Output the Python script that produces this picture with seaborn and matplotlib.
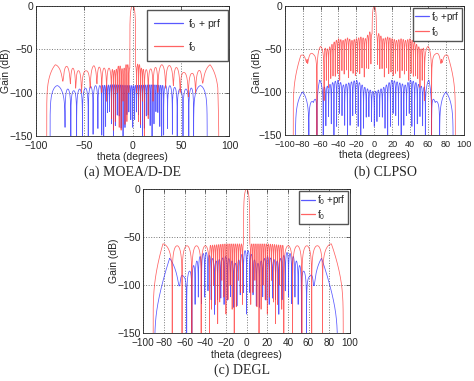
import numpy as np
import seaborn as sns
import matplotlib
matplotlib.use('Agg')
import matplotlib.pyplot as plt

# ---------------- (a) MOEA/D-DE ----------------
# null positions (deg) and the lobe index at each null
a_red_null_pos = [-89, -80.5, -72, -64.5, -59, -53, -44, -37, -32, -27, -22, -20, 12, 16, 21, 26, 34, 42, 49, 57.5, 65, 72, 80.5, 89]
a_red_null_idx = [0, 0.5, 1, 2, 3, 4, 5, 6, 7, 8, 9, 10, 26, 27, 28, 29, 30, 31, 32, 33, 34, 35, 35.5, 36]
a_red_peak_t = [-92, -89, -80, -68, -62, -56, -48, -40, -34, -29, -24, -18, -14, -10, -6, -3, 0, 3, 6, 9, 12, 18, 24, 30, 38, 45, 53, 61, 68, 80, 88, 92]
a_red_peak_db = [-200, -80, -68, -70, -72, -75, -75, -69, -71, -72, -72, -75, -68, -74, -66, -72, -70, -70, -66, -72, -74, -73, -71, -68, -69, -71, -77, -78, -75, -68, -80, -200]
a_red_nul_t = [-100, -89, -72, -64.5, -59, -53, -44, -37, -32, -27, -22, -19, -16, -13, -10, -7, -4, 0, 4, 7, 10, 12, 16, 21, 26, 34, 42, 49, 57.5, 65, 72, 89, 100]
a_red_nul_db = [-200, -200, -86, -90, -95, -100, -95, -90, -100, -110, -130, -150, -100, -160, -110, -150, -100, -140, -100, -150, -110, -160, -130, -110, -100, -95, -92, -100, -105, -100, -88, -200, -200]

a_blue_null_pos = [-85.5, -78, -70, -64, -58, -52, -46, -41, -36, -32, 32, 36, 41, 46, 52, 58, 63, 70, 77]
a_blue_null_idx = [0, 0.5, 1, 2, 3, 4, 5, 6, 7, 8, 40, 41, 42, 43, 44, 45, 46, 46.5, 47]
a_blue_peak_t = [-90, -78, -67, -61, -55, -49, -43, -38, -34, -20, 0, 20, 34, 38, 43, 49, 55, 60, 70, 80]
a_blue_peak_db = [-95, -92, -96, -98, -96, -95, -93, -92, -92, -91, -92, -91, -92, -92, -94, -96, -96, -95, -92, -95]
a_blue_nul_t = [-100, -85.5, -70, -64, -50, -35, -30, -25, -20, -15, -10, -5, 0, 5, 10, 15, 20, 25, 30, 35, 50, 63, 77, 100]
a_blue_nul_db = [-200, -200, -140, -150, -160, -140, -155, -115, -150, -120, -155, -118, -140, -118, -155, -120, -150, -115, -155, -140, -160, -150, -200, -200]

# ---------------- (b) CLPSO ----------------
b_red_null_pos = [-90.5, -80, -75, -70, -64, -56, 56, 64, 70, 75, 80, 90.5]
b_red_null_idx = [0, 0.5, 1, 1.5, 2, 3, 48, 49, 49.5, 50, 50.5, 51]
b_red_peak_t = [-90, -82, -78, -72, -68, -60, -52, -45, -40, -35, -30, -25, -20, -15, -10, -5, 0, 5, 10, 15, 20, 25, 30, 35, 40, 45, 52, 60, 68, 72, 78, 82, 90]
b_red_peak_db = [-80, -57, -57, -55, -55, -47, -50, -42, -38, -40, -37, -40, -38, -36, -38, -30, -35, -32, -38, -36, -38, -40, -38, -40, -38, -42, -50, -47, -55, -55, -57, -57, -80]
b_red_nul_t = [-100, -90.5, -75, -64, -56, -50, -45, -40, -35, -30, -25, -20, -15, -10, -5, 0, 5, 10, 15, 20, 25, 30, 35, 40, 45, 50, 56, 64, 75, 90.5, 100]
b_red_nul_db = [-200, -200, -62, -200, -110, -95, -80, -100, -75, -90, -75, -95, -75, -85, -70, -70, -70, -85, -75, -95, -75, -90, -75, -100, -80, -95, -110, -200, -62, -200, -200]

b_blue_null_pos = [-88, -80, -73, -64, -57, 57, 64, 73, 80, 88]
b_blue_null_idx = [0, 0.5, 1, 2, 3, 41, 42, 43, 43.5, 44]
b_blue_peak_t = [-88, -80, -68, -61, -55, -45, -40, -35, -25, -20, -10, 0, 10, 20, 25, 35, 40, 45, 55, 61, 68, 80, 88]
b_blue_peak_db = [-110, -100, -112, -86, -95, -88, -86, -92, -88, -86, -95, -100, -95, -86, -88, -92, -86, -88, -95, -86, -112, -100, -110]
b_blue_nul_t = [-100, -88, -73, -64, -57, -50, -45, -38, -30, -22, -15, -8, 0, 8, 15, 22, 30, 38, 45, 50, 57, 64, 73, 88, 100]
b_blue_nul_db = [-200, -200, -150, -160, -150, -125, -155, -120, -150, -120, -155, -125, -140, -125, -155, -120, -150, -120, -155, -125, -150, -160, -150, -200, -200]

# ---------------- (c) DEGL ----------------
c_red_null_pos = [-90.5, -81, -72, -62.5, -53, -44, -36, 36, 44.5, 53.5, 63, 73.5, 82, 93.5]
c_red_null_idx = [0, 0.5, 1, 2, 3, 4, 5, 41, 42, 43, 44, 45, 45.5, 46]
c_red_peak_t = [-90, -81, -68, -58, -48, -40, -30, -20, -10, 0, 10, 20, 30, 40, 49, 58, 68, 82, 93]
c_red_peak_db = [-90, -57, -59, -59, -59, -59, -58, -57, -57, -57, -57, -57, -58, -59, -59, -59, -59, -57, -90]
c_red_nul_t = [-100, -90.5, -72, -53, -36, -32, -28, -24, -20, -16, -12, -8, -4, 0, 4, 8, 12, 16, 20, 24, 28, 32, 36, 53, 73.5, 93.5, 100]
c_red_nul_db = [-200, -200, -170, -170, -150, -100, -140, -95, -130, -100, -150, -95, -120, -90, -120, -95, -150, -100, -130, -95, -140, -100, -150, -170, -170, -200, -200]

c_blue_null_pos = [-89, -74.5, -65, -58, -53, 53, 58, 65, 72.5, 88]
c_blue_null_idx = [0, 0.5, 1, 2, 3, 37, 38, 39, 39.5, 40]
c_blue_peak_t = [-89, -74.5, -61, -55, -45, -40, -30, -20, -10, -3, 0, 3, 10, 20, 30, 40, 45, 55, 61, 72.5, 88]
c_blue_peak_db = [-120, -72, -91, -85, -70, -65, -75, -70, -78, -65, -63, -65, -78, -70, -75, -65, -70, -85, -91, -72, -120]
c_blue_nul_t = [-100, -89, -65, -58, -45, -38, -30, -22, -15, -8, 0, 8, 15, 22, 30, 38, 45, 58, 65, 88, 100]
c_blue_nul_db = [-200, -200, -100, -160, -150, -115, -150, -120, -155, -115, -130, -115, -155, -120, -150, -115, -150, -160, -100, -200, -200]

# main beam half width (deg) of the f0 pattern
beam_w = {'a': 3.0, 'b': 2.5, 'c': 3.0}

theta = np.linspace(-100, 100, 8001)


def pattern(null_pos, null_idx, pk_t, pk_db, nl_t, nl_db):
    c = np.interp(theta, null_pos, null_idx)
    pk = np.interp(theta, pk_t, pk_db)
    nl = np.interp(theta, nl_t, nl_db)
    lin = 10 ** (pk / 10) * np.sin(np.pi * c) ** 2 + 10 ** (nl / 10)
    return 10 * np.log10(lin)


def main_beam(w):
    g = np.full_like(theta, -300.0)
    m = np.abs(theta) < w
    g[m] = 20 * np.log10(np.maximum(np.cos(np.pi * theta[m] / (2 * w)), 1e-15))
    return g


sns.set_style('white')
plt.rcParams['font.family'] = ['Liberation Sans', 'DejaVu Sans']
plt.rcParams['mathtext.fontset'] = 'custom'
plt.rcParams['mathtext.rm'] = 'Liberation Sans'
plt.rcParams['mathtext.it'] = 'Liberation Sans'

fig = plt.figure(figsize=(4.74, 3.81), dpi=100)
ax_a = fig.add_axes([0.076, 0.643, 0.408, 0.3425])
ax_b = fig.add_axes([0.6006, 0.6457, 0.378, 0.3386])
ax_c = fig.add_axes([0.3023, 0.1252, 0.436, 0.3787])

panels = [
    (ax_a, 'a', (a_blue_null_pos, a_blue_null_idx, a_blue_peak_t, a_blue_peak_db, a_blue_nul_t, a_blue_nul_db),
     (a_red_null_pos, a_red_null_idx, a_red_peak_t, a_red_peak_db, a_red_nul_t, a_red_nul_db), -0.13),
    (ax_b, 'b', (b_blue_null_pos, b_blue_null_idx, b_blue_peak_t, b_blue_peak_db, b_blue_nul_t, b_blue_nul_db),
     (b_red_null_pos, b_red_null_idx, b_red_peak_t, b_red_peak_db, b_red_nul_t, b_red_nul_db), -0.126),
    (ax_c, 'c', (c_blue_null_pos, c_blue_null_idx, c_blue_peak_t, c_blue_peak_db, c_blue_nul_t, c_blue_nul_db),
     (c_red_null_pos, c_red_null_idx, c_red_peak_t, c_red_peak_db, c_red_nul_t, c_red_nul_db), -0.118),
]
xtick_size = {'a': 7.5, 'b': 6.6, 'c': 7.2}

for ax, key, blue_p, red_p, ylab_x in panels:
    g_blue = pattern(*blue_p)
    g_red = np.maximum(pattern(*red_p), main_beam(beam_w[key]))
    lab_b = 'f$_0$ + prf' if key == 'a' else 'f$_0$ +prf'
    sns.lineplot(x=theta, y=g_blue, ax=ax, color='#2f2fff', linewidth=0.55, alpha=0.8, label=lab_b)
    sns.lineplot(x=theta, y=g_red, ax=ax, color='#ff2f2f', linewidth=0.55, alpha=0.75, label='f$_0$')

    ax.set_xlim(-100, 100)
    ax.set_ylim(-150, 0)
    if key == 'a':
        ax.set_xticks([-100, -50, 0, 50, 100])
    else:
        ax.set_xticks(list(range(-100, 101, 20)))
    ax.set_yticks([-150, -100, -50, 0])
    ax.grid(True, linestyle=':', color='#777777', linewidth=0.7)
    ax.tick_params(direction='in', top=True, right=True, length=3, width=0.5,
                   labelsize=7.5, pad=2, color='#333333')
    ax.tick_params(axis='x', pad=3.5, labelsize=xtick_size[key])
    for s in ax.spines.values():
        s.set_linewidth(0.6)
        s.set_color('#222222')
    ax.set_xlabel('theta (degrees)', fontsize=7.5, labelpad=1)
    ax.set_ylabel('Gain (dB)', fontsize=7.5)
    ax.yaxis.set_label_coords(ylab_x, 0.5)

# legends
ax_a.legend(loc='upper right', bbox_to_anchor=(0.993, 0.966), fontsize=7.5, handlelength=2.8,
            labelspacing=0.9, borderpad=0.65, handletextpad=0.5, fancybox=False,
            edgecolor='#555555', framealpha=1, borderaxespad=0)
for ax in (ax_b, ax_c):
    ax.legend(loc='upper right', fontsize=7, handlelength=1.4, labelspacing=0.1,
              borderpad=0.2, handletextpad=0.25, fancybox=False, edgecolor='#555555',
              framealpha=1, borderaxespad=0.2)
for ax in (ax_a, ax_b, ax_c):
    for ln in ax.get_legend().get_lines():
        ln.set_linewidth(0.9)

cap = dict(family='Liberation Serif', fontsize=10, ha='center', va='center')
fig.text(133 / 474, 1 - 172 / 381, '(a) MOEA/D-DE', **cap)
fig.text(386 / 474, 1 - 172 / 381, '(b) CLPSO', **cap)
fig.text(242 / 474, 1 - 370 / 381, '(c) DEGL', **cap)

fig.savefig('out.png', dpi=100)
